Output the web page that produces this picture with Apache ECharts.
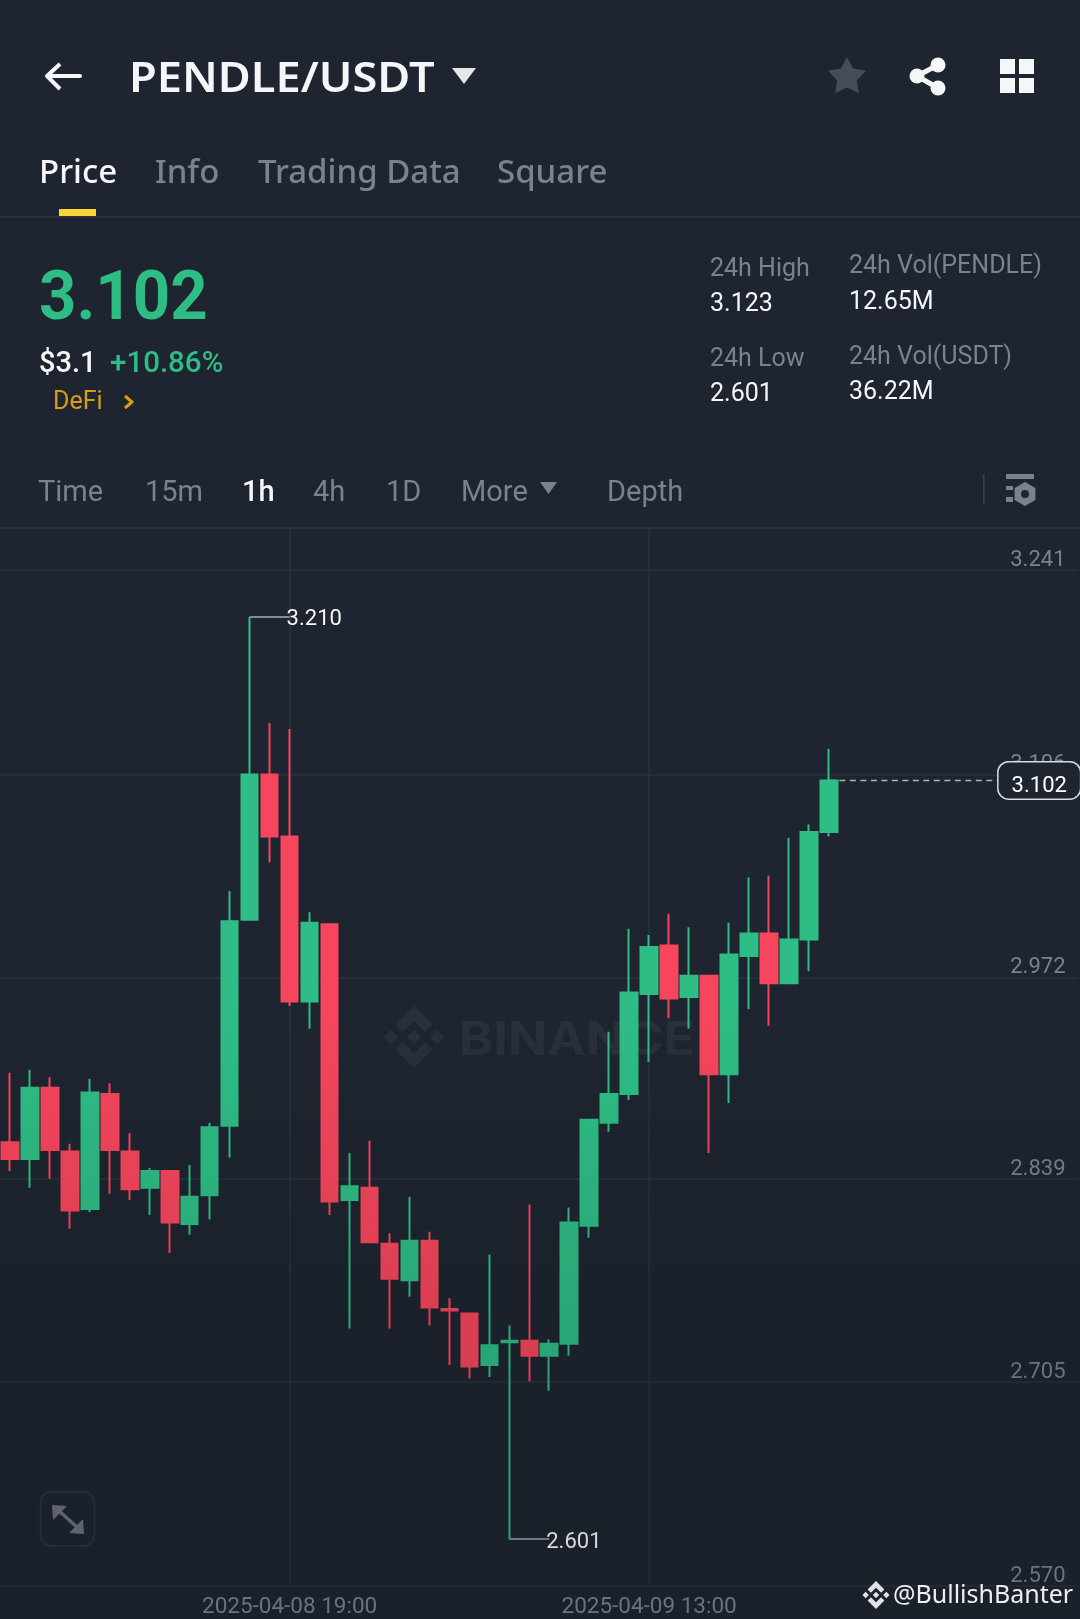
<!DOCTYPE html>
<html>
<head>
<meta charset="utf-8">
<title>PENDLE/USDT</title>
<script src="https://cdn.jsdelivr.net/npm/echarts@6/dist/echarts.min.js"></script>
<style>
  html, body { margin: 0; padding: 0; background: #1e2530; }
  #main { width: 1080px; height: 1619px; }
</style>
</head>
<body>
<div id="main"></div>
<script>
// candles, one per hour
const opens  = [2.863,2.852,2.899,2.857,2.819,2.895,2.857,2.833,2.844,2.809,2.828,2.874,3.010,3.106,3.065,2.956,3.007,2.825,2.833,2.796,2.772,2.798,2.753,2.750,2.716,2.731,2.732,2.722,2.730,2.808,2.876,2.895,2.961,2.993,2.959,2.973,2.908,2.986,3.001,2.968,2.997,3.068];
const closes = [2.852,2.899,2.858,2.818,2.896,2.858,2.832,2.844,2.810,2.827,2.873,3.009,3.106,3.065,2.956,3.008,2.824,2.834,2.797,2.773,2.798,2.754,2.752,2.715,2.729,2.732,2.722,2.730,2.810,2.878,2.895,2.962,2.992,2.958,2.973,2.908,2.987,3.001,2.968,2.997,3.068,3.102];
const lows   = [2.844,2.833,2.839,2.806,2.817,2.829,2.825,2.815,2.790,2.802,2.812,2.853,3.010,3.048,2.953,2.938,2.815,2.740,2.797,2.740,2.761,2.742,2.716,2.707,2.708,2.601,2.705,2.699,2.722,2.800,2.870,2.891,2.916,2.945,2.938,2.856,2.889,2.951,2.940,2.968,2.976,3.065];
const highs  = [2.909,2.911,2.906,2.862,2.905,2.902,2.869,2.846,2.844,2.848,2.876,3.029,3.210,3.140,3.136,3.015,3.007,2.856,2.864,2.803,2.827,2.804,2.760,2.750,2.789,2.742,2.822,2.733,2.820,2.878,2.936,3.004,3.000,3.014,3.005,2.973,3.008,3.038,3.039,3.064,3.073,3.123];

const yTicks = [3.241, 3.106, 2.972, 2.839, 2.705, 2.570];
const xTickLabels = ['2025-04-08 19:00', '2025-04-09 13:00'];
const lastPrice = 3.102;
const highPrice = 3.210;
const lowPrice = 2.601;

const tabs = ['Price', 'Info', 'Trading Data', 'Square'];
const periods = ['Time', '15m', '1h', '4h', '1D', 'More', 'Depth'];

// hourly categories, a few empty ones on the right of the last candle
const times = [];
for (let i = 0; i < 54; i++) {
  const h = 5 + i;
  const day = h < 24 ? '08' : (h < 48 ? '09' : '10');
  times.push('2025-04-' + day + ' ' + String(h % 24).padStart(2, '0') + ':00');
}
const candles = opens.map((o, i) => [o, closes[i], lows[i], highs[i]]);
const highIdx = highs.indexOf(highPrice);
const lowIdx = lows.indexOf(lowPrice);
const lastIdx = opens.length - 1;
const isTick = (idx, val) => xTickLabels.includes(val);

const BG = '#1e2530', GRID = '#2b323d', GRAY = '#7b818d', GREEN = '#2ebd85', RED = '#f6465d', WHITE = '#f5f6f7';
const PLEX = '"Noto Sans"', DIN = 'Roboto';

function txt(x, y, text, size, fill, weight, family, sx) {
  return {
    type: 'text', x: x, y: y, scaleX: sx || 1, silent: true,
    style: { text: text, fill: fill, font: (weight || 400) + ' ' + size + 'px ' + (family || DIN), verticalAlign: 'middle' }
  };
}
function poly(points, fill) {
  return { type: 'polygon', silent: true, shape: { points: points }, style: { fill: fill } };
}
function rect(x, y, w, h, fill, r) {
  return { type: 'rect', silent: true, shape: { x: x, y: y, width: w, height: h, r: r || 0 }, style: { fill: fill } };
}
function segment(x1, y1, x2, y2, stroke, w) {
  return { type: 'line', silent: true, shape: { x1: x1, y1: y1, x2: x2, y2: y2 }, style: { stroke: stroke, lineWidth: w, lineCap: 'round', lineJoin: 'round' } };
}
function polyline(points, stroke, w) {
  return { type: 'polyline', silent: true, shape: { points: points }, style: { stroke: stroke, lineWidth: w, fill: 'none', lineJoin: 'round' } };
}
function circle(x, y, r, fill) {
  return { type: 'circle', silent: true, shape: { cx: x, cy: y, r: r }, style: { fill: fill } };
}
// binance diamond
function logo(cx, cy, r, fill) {
  const p = (a) => a.map(q => [cx + q[0] * r, cy + q[1] * r]);
  const d = (x, s) => p([[x, -s], [x + s, 0], [x, s], [x - s, 0]]);
  return [
    poly(d(0, .23), fill), poly(d(-.74, .23), fill), poly(d(.74, .23), fill),
    poly(p([[0, -1], [.6, -.4], [.36, -.16], [0, -.52], [-.36, -.16], [-.6, -.4]]), fill),
    poly(p([[0, 1], [.6, .4], [.36, .16], [0, .52], [-.36, .16], [-.6, .4]]), fill)
  ];
}
function star(cx, cy, R, fill) {
  const pts = [];
  for (let i = 0; i < 10; i++) {
    const r = i % 2 ? R * .52 : R, a = -Math.PI / 2 + i * Math.PI / 5;
    pts.push([cx + r * Math.cos(a), cy + r * Math.sin(a)]);
  }
  return poly(pts, fill);
}
function hexagon(cx, cy, r, fill) {
  const pts = [];
  for (let i = 0; i < 6; i++) {
    const a = -Math.PI / 2 + i * Math.PI / 3;
    pts.push([cx + r * Math.cos(a), cy + r * Math.sin(a)]);
  }
  return poly(pts, fill);
}

const tabX = [39, 155, 258, 497];
const periodX = [38, 145, 242, 313, 386, 461, 607];

const overlay = [
  // top bar
  segment(48, 76, 80, 76, WHITE, 4),
  polyline([[60, 64], [47, 76], [60, 89]], WHITE, 4),
  txt(129, 80, 'PENDLE/USDT', 42, WHITE, 600, PLEX, 1.075),
  poly([[452, 68], [476, 68], [464, 84]], '#e4e6ea'),
  star(847, 77, 20, '#474d57'),
  segment(917, 76, 938, 65, WHITE, 5), segment(917, 76, 938, 88, WHITE, 5),
  circle(938, 65, 7.5, WHITE), circle(917, 76, 7.5, WHITE), circle(938, 88, 7.5, WHITE),
  rect(1000, 59, 15, 15, WHITE), rect(1019, 59, 15, 15, WHITE),
  rect(1000, 78, 15, 15, WHITE), rect(1019, 78, 15, 15, WHITE),
  // tabs
  rect(59, 209, 37, 7, '#fcd535'),
  rect(0, 216, 1080, 2, GRID),
  // price block
  txt(39, 302, '3.102', 69, GREEN, 700, DIN, .945),
  txt(39, 365, '$3.1', 29, WHITE, 500, DIN),
  txt(110, 365, '+10.86%', 29.5, GREEN, 500, DIN),
  txt(53, 403, 'DeFi', 25, '#d99e0f', 400, DIN),
  polyline([[125, 396], [132, 402], [125, 408]], '#d99e0f', 3),
  txt(710, 270, '24h High', 25, GRAY), txt(710, 305, '3.123', 25, WHITE),
  txt(710, 360, '24h Low', 25, GRAY), txt(710, 395, '2.601', 25, WHITE),
  txt(849, 267, '24h Vol(PENDLE)', 25, GRAY), txt(849, 303, '12.65M', 25, WHITE),
  txt(849, 358, '24h Vol(USDT)', 25, GRAY), txt(849, 393, '36.22M', 25, WHITE),
  // period row
  poly([[540, 482], [557, 482], [548.5, 494]], GRAY),
  rect(983, 474, 1.5, 30, '#3a414c'),
  rect(1006, 474, 28, 5, GRAY), rect(1006, 486, 7, 4, GRAY), rect(1006, 497, 7, 5, GRAY),
  hexagon(1025, 494, 12, GRAY), circle(1025, 494, 4, BG),
  rect(0, 527, 1080, 2, GRID),
  // expand button
  { type: 'rect', silent: true, shape: { x: 40.5, y: 1492, width: 54, height: 54, r: 11 }, style: { fill: 'none', stroke: GRID, lineWidth: 2 } },
  segment(58, 1510, 78, 1528, '#6b717c', 3.5),
  poly([[52, 1505], [67, 1506], [53, 1520]], '#6b717c'),
  poly([[84, 1534], [69, 1533], [83, 1519]], '#6b717c'),
  // watermark behind the candles
  ...logo(414, 1037, 31, '#2a303b'),
  txt(459, 1041, 'BINANCE', 46, '#2a303b', 700, 'Inter', 1.125),
  // the screenshot gets darker towards the bottom
  {
    type: 'rect', silent: true, z: 5,
    shape: { x: 0, y: 1000, width: 1080, height: 619 },
    style: {
      fill: new echarts.graphic.LinearGradient(0, 0, 0, 1, [
        { offset: 0, color: 'rgba(0,0,0,0)' },
        { offset: .55, color: 'rgba(0,0,0,.12)' },
        { offset: 1, color: 'rgba(0,0,0,.12)' }
      ])
    }
  },
  ...logo(876, 1595, 14, '#dfe1e5').map(e => ({ ...e, z: 6 })),
  { ...txt(893, 1596, '@BullishBanter', 25, '#eceef1', 400, PLEX), z: 6 }
];
tabs.forEach((t, i) => overlay.push(txt(tabX[i], 174, t, 33, i === 0 ? WHITE : GRAY, 500, PLEX)));
periods.forEach((t, i) => overlay.push(txt(periodX[i], 494, t, 29, t === '1h' ? WHITE : GRAY, t === '1h' ? 500 : 400, DIN)));

const myChart = echarts.init(document.getElementById('main'));
myChart.setOption({
  animation: false,
  backgroundColor: BG,
  grid: { left: -1.5, right: 1.5, top: 527, bottom: 31 },
  xAxis: {
    type: 'category',
    data: times,
    boundaryGap: true,
    axisLine: { show: false },
    axisTick: { show: false },
    axisLabel: { interval: isTick, color: GRAY, fontFamily: DIN, fontSize: 22.5, margin: 10 },
    splitLine: { show: true, interval: isTick, alignWithLabel: true, lineStyle: { color: GRID, width: 1.5 } }
  },
  yAxis: {
    type: 'value',
    position: 'right',
    min: 2.570,
    max: 3.2694,
    axisLine: { show: false },
    axisTick: { show: false, customValues: yTicks },
    axisLabel: {
      inside: true, customValues: yTicks, margin: 13, verticalAlign: 'bottom', lineHeight: 19,
      color: GRAY, fontFamily: DIN, fontSize: 22, formatter: v => v.toFixed(3)
    },
    splitLine: { show: true, lineStyle: { color: GRID, width: 1.5 } }
  },
  graphic: { elements: overlay },
  series: [
    {
      name: 'last', type: 'line', symbol: 'none', z: 1,
      data: [[times[lastIdx], lastPrice], [times[lastIdx + 9], lastPrice]],
      lineStyle: { color: '#aeb3bb', width: 1.5, type: [6, 4.5] },
      endLabel: {
        show: true, formatter: '{v|' + lastPrice.toFixed(3) + '}', distance: -10,
        backgroundColor: BG, borderColor: '#d8dbe0', borderWidth: 1.5, borderRadius: 10,
        padding: [7, 13, 7, 13],
        rich: { v: { color: '#ffffff', fontFamily: DIN, fontSize: 22, lineHeight: 22, padding: [12, 0, 0, 0] } }
      }
    },
    {
      name: 'PENDLE/USDT', type: 'candlestick', z: 2,
      data: candles,
      barWidth: 17,
      itemStyle: { color: GREEN, color0: RED, borderColor: GREEN, borderColor0: RED, borderWidth: 2 }
    },
    {
      name: 'high', type: 'line', symbol: 'none', z: 1,
      data: [[times[highIdx], highPrice], [times[highIdx + 2], highPrice]],
      lineStyle: { color: '#a9aeb6', width: 1.5 },
      endLabel: { show: true, formatter: highPrice.toFixed(3), distance: -2, offset: [-1, 3], color: WHITE, fontFamily: DIN, fontSize: 22 }
    },
    {
      name: 'low', type: 'line', symbol: 'none', z: 1,
      data: [[times[lowIdx], lowPrice], [times[lowIdx + 2], lowPrice]],
      lineStyle: { color: '#a9aeb6', width: 1.5 },
      endLabel: { show: true, formatter: lowPrice.toFixed(3), distance: -2, offset: [-1, 3], color: WHITE, fontFamily: DIN, fontSize: 22 }
    }
  ]
});
</script>
</body>
</html>
